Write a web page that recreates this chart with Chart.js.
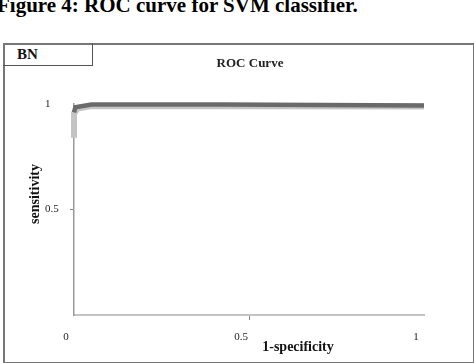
<!DOCTYPE html>
<html>
<head>
<meta charset="utf-8">
<script src="https://cdn.jsdelivr.net/npm/chart.js@4"></script>
<style>
  html, body { margin:0; padding:0; background:#fff; width:474px; height:363px; overflow:hidden; position:relative; }
  #caption { position:absolute; left:-3px; top:-5px; font:bold 21px "Liberation Serif", serif; line-height:20px; color:#000; white-space:nowrap; }
  #frame { position:absolute; left:3px; top:43px; width:468px; height:317px; border:2px solid #777; }
  #bn { position:absolute; left:3px; top:43px; width:89px; height:22px; border-right:1px solid #555; border-bottom:1px solid #555; }
  #bn span { position:absolute; left:14px; top:3px; font:bold 15px "Liberation Serif", serif; color:#111; }
  #c { position:absolute; left:0; top:0; }
</style>
</head>
<body>
<div id="caption">Figure 4: ROC curve for SVM classifier.</div>
<div id="frame"></div>
<div id="bn"><span>BN</span></div>
<canvas id="c" width="474" height="363"></canvas>
<script>
// ---------- DATA ----------
const chartTitle = "ROC Curve";
const xTitle = "1-specificity";
const yTitle = "sensitivity";
// light grey band (lower part of the curve)
const fprLight = [0, 0, 0.01, 0.05, 1];
const tprLight = [0.84, 0.955, 0.978, 0.99, 0.988];
// dark grey curve on top
const fprDark = [0, 0.004, 0.05, 0.42, 1];
const tprDark = [0.96, 0.985, 0.998, 0.998, 0.993];
const xTicks = [0, 0.5, 1];
const yTicks = [0.5, 1];

// ---------- UTIL ----------
const toPts = (xs, ys) => xs.map((x, i) => ({ x, y: ys[i] }));
const SERIF = '"Liberation Serif", serif';

// chart title + axis titles, placed like the original sheet
const titles = {
  id: 'titles',
  afterDraw(chart){
    const { ctx, chartArea } = chart;
    ctx.save();
    ctx.textAlign = 'center';
    ctx.textBaseline = 'middle';
    ctx.fillStyle = '#222';
    ctx.font = `bold 13px ${SERIF}`;
    ctx.fillText(chartTitle, 250, 64);
    ctx.fillStyle = '#111';
    ctx.font = `bold 14px ${SERIF}`;
    ctx.fillText(xTitle, chartArea.left + 224, chartArea.bottom + 32);
    ctx.translate(35, chartArea.top + 90);
    ctx.rotate(-Math.PI / 2);
    ctx.fillText(yTitle, 0, 0);
    ctx.restore();
  }
};

new Chart(document.getElementById('c'), {
  type: 'line',
  data: {
    datasets: [
      { label: 'dark', data: toPts(fprDark, tprDark), borderColor: '#6a6a6a', borderWidth: 4.5, clip: false },
      { label: 'light', data: toPts(fprLight, tprLight), borderColor: '#c4c4c4', borderWidth: 6, clip: false }
    ]
  },
  options: {
    responsive: false,
    animation: false,
    events: [],
    elements: { point: { radius: 0 }, line: { tension: 0, borderCapStyle: 'butt' } },
    layout: { padding: { left: 45, right: 50, top: 104, bottom: 8 } },
    plugins: {
      legend: { display: false },
      tooltip: { enabled: false },
      title: { display: false }
    },
    scales: {
      x: {
        type: 'linear', min: 0, max: 1,
        afterBuildTicks: s => { s.ticks = xTicks.map(v => ({ value: v })); },
        afterFit: s => { s.height = 40; },
        border: { display: true, color: '#c4c4c4', width: 2 },
        grid: { drawOnChartArea: false, tickLength: 5,
                tickColor: c => (c.tick && c.tick.value === 0.5) ? '#888' : 'rgba(0,0,0,0)' },
        ticks: { color: '#222', font: { family: SERIF, size: 11 }, padding: 11, labelOffset: -8,
                 maxRotation: 0, callback: v => String(v) }
      },
      y: {
        type: 'linear', min: 0, max: 1,
        afterBuildTicks: s => { s.ticks = yTicks.map(v => ({ value: v })); },
        afterFit: s => { s.width = 29; },
        border: { display: true, color: '#999', width: 1.5 },
        grid: { drawOnChartArea: false, tickLength: 4,
                tickColor: c => (c.tick && c.tick.value === 0.5) ? '#888' : 'rgba(0,0,0,0)' },
        ticks: { color: '#222', font: { family: SERIF, size: 11 }, crossAlign: 'far', padding: 4,
                 callback: v => String(v) }
      }
    }
  },
  plugins: [titles]
});
</script>
</body>
</html>
